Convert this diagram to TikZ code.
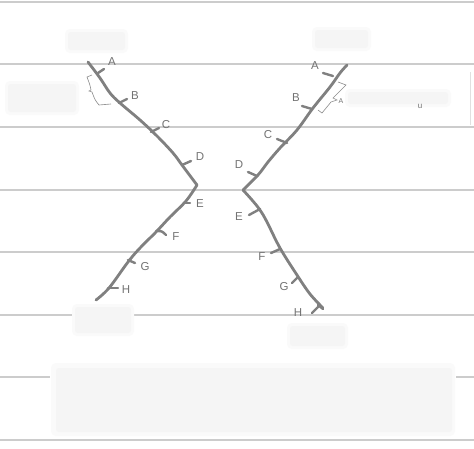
\documentclass[tikz,border=0pt]{standalone}
\usepackage{fontspec}
\setmainfont{Liberation Sans}
\begin{document}
\begin{tikzpicture}[x=1pt,y=-1pt,
  rule/.style={draw=black!20,line width=1.3pt},
  fault/.style={draw=black!50,line width=2.8pt,line cap=round,line join=round},
  tick/.style={draw=black!50,line width=2.4pt,line cap=round},
  lab/.style={text=black!55,font=\fontsize{11.5}{11.5}\selectfont,inner sep=0pt},
  brk/.style={draw=black!45,line width=0.6pt},
  blurout/.style={fill=black!2,draw=none,rounded corners=5pt},
  blur/.style={fill=black!4,draw=none,rounded corners=3pt}]
\useasboundingbox (0,0) rectangle (474,448);
\fill[white] (0,0) rectangle (474,448);
% ruled lines
\foreach \y in {2,64,127,190,252,315,377,440}
  \draw[rule] (0,\y) -- (474,\y);
\draw[draw=black!12,line width=1pt] (470,72) -- (470,125);
% left fault
\draw[fault] plot[smooth,tension=0.6] coordinates {(88,62) (100,78) (110,93) (120,103) (140,120) (157,136) (173,153) (182,165) (197,185)};
\draw[fault] plot[smooth,tension=0.6] coordinates {(197,185) (186,201) (170,217) (156,232) (140,248) (128,262) (109,288) (96,300)};
% left ticks
\draw[tick] (98,73) -- (104,69);
\draw[tick] (119,103) -- (127,99);
\draw[tick] (151,132) -- (159,128);
\draw[tick] (182,165) -- (191,161);
\draw[tick] (184,203) -- (190,203);
\draw[tick] (156,231) .. controls (162,231) .. (166,235);
\draw[tick] (128,260) -- (135,263);
\draw[tick] (108,288) -- (118,288);
% left labels
\node[lab] (lA) at (112,62) {A};
\node[lab] (lB) at (135,96) {B};
\node[lab] (lC) at (166,125) {C};
\node[lab] (lD) at (200,157) {D};
\node[lab] (lE) at (200,204) {E};
\node[lab] (lF) at (176,237) {F};
\node[lab] (lG) at (145,267) {G};
\node[lab] (lH) at (126,290) {H};
% left bracket
\draw[brk] (92,75) -- (87,77) .. controls (90,85) .. (91,90) -- (89,91) -- (92,92) .. controls (95,100) .. (99,105) -- (111,104);
% right fault
\draw[fault] plot[smooth,tension=0.6] coordinates {(347,65) (340,73) (330,87) (313,108) (297,130) (280,148) (268,162) (258,175) (243,190)};
\draw[fault] plot[smooth,tension=0.6] coordinates {(243,190) (252,200) (260,210) (267,222) (280,248) (297,275) (310,294) (323,308)};
% right ticks
\draw[tick] (323,73) -- (333,76);
\draw[tick] (302,106) -- (312,109);
\draw[tick] (277,139) -- (287,143);
\draw[tick] (248,172) -- (257,176);
\draw[tick] (249,215) -- (260,209);
\draw[tick] (271,253) -- (280,249);
\draw[tick] (292,283) -- (298,277);
\draw[tick] (312,313) -- (319,306);
\draw[tick] (318,305) -- (323,309);
% right labels
\node[lab] (rA) at (315,66) {A};
\node[lab] (rB) at (296,98) {B};
\node[lab] (rC) at (268,135) {C};
\node[lab] (rD) at (239,165) {D};
\node[lab] (rE) at (239,217) {E};
\node[lab] (rF) at (262,257) {F};
\node[lab] (rG) at (284,287) {G};
\node[lab] (rH) at (298,313) {H};
% right bracket
\draw[brk] (338,82) -- (346,85) -- (333,98) -- (337,100) -- (331,102) -- (322,113) -- (318,110);
% blurred (hidden) labels
\path[blurout] (65,29) rectangle (128,53);
\path[blur] (68,32) rectangle (125,50);
\path[blurout] (5,81) rectangle (79,115);
\path[blur] (8,84) rectangle (76,112);
\path[blurout] (312,27) rectangle (371,51);
\path[blur] (315,30) rectangle (368,48);
\path[blurout] (345,89) rectangle (451,107);
\path[blur] (348,92) rectangle (448,104);
\path[blurout] (72,304) rectangle (134,336);
\path[blur] (75,307) rectangle (131,333);
\path[blurout] (287,323) rectangle (348,349);
\path[blur] (290,326) rectangle (345,346);
\path[fill=white] (50,362) rectangle (456,437);
\path[blurout] (51,363) rectangle (455,436);
\path[blur] (56,368) rectangle (452,432);
\node[lab,font=\fontsize{7}{7}\selectfont] (rP) at (341,101) {A};
\node[lab,font=\fontsize{8}{8}\selectfont] (ru) at (420,106) {u};
\end{tikzpicture}
\end{document}
